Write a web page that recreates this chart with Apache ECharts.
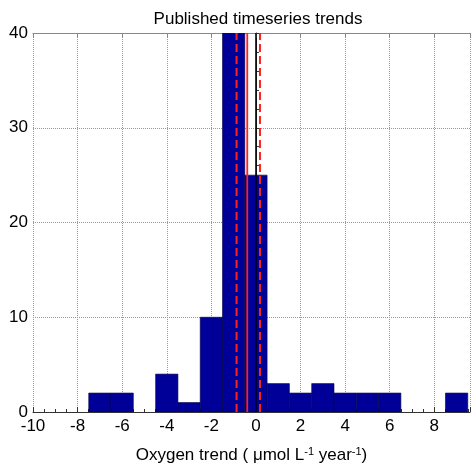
<!DOCTYPE html><html><head><meta charset="utf-8"><script src="https://cdn.jsdelivr.net/npm/echarts@6/dist/echarts.min.js"></script><style>body{margin:0}#c{width:474px;height:474px}</style></head><body><div id="c"></div><script>
var binCenters=[-7,-6,-4,-3,-2,-1,0,1,2,3,4,5,6,9];
var counts=[2,2,4,1,10,42,25,3,2,3,2,2,2,2];
var redDashed=[-0.87,0.18];
var redSolid=[-0.39];
var blackSolid=[0];
var ch=echarts.init(document.getElementById('c'));
function vline(x,color,type,w,z){return {type:'line',data:[[x,0],[x,40]],symbol:'none',silent:true,lineStyle:{color:color,type:type,width:w},z:z};}
var series=[{type:'custom',clip:true,data:binCenters.map(function(c,i){return [c,counts[i]];}),
renderItem:function(p,api){var c=api.value(0),v=api.value(1);var a=api.coord([c-0.5,v]),b=api.coord([c+0.5,0]);
return {type:'rect',shape:{x:a[0],y:a[1],width:b[0]-a[0],height:b[1]-a[1]},style:{fill:'#000099',stroke:'#000044',lineWidth:0.6}};}}];
blackSolid.forEach(function(x){series.push(vline(x,'#000','solid',1.5,5));});
redSolid.forEach(function(x){series.push(vline(x,'#ff2020','solid',1.8,6));});
redDashed.forEach(function(x){series.push(vline(x,'#ff2020','dashed',2,7));});
ch.setOption({animation:false,
title:{text:'Published timeseries trends',left:253,textAlign:'center',top:6,textStyle:{fontFamily:'Liberation Sans',fontSize:17,fontWeight:'normal',color:'#000'}},
grid:{left:33,right:4,top:33,bottom:62},
xAxis:[{type:'value',min:-10,max:9.6,interval:2,minorTick:{show:true,splitNumber:4,length:3},axisTick:{inside:true,length:5,lineStyle:{color:'#333'}},axisLine:{lineStyle:{color:'#333'}},
axisLabel:{fontFamily:'Liberation Sans',fontSize:17,color:'#000',margin:6,showMaxLabel:false},
splitLine:{show:true,lineStyle:{type:'dotted',color:'#999'}},
name:'{a|Oxygen trend ( μmol L}{s|-1}{a| year}{s|-1}{a|)}',nameLocation:'middle',nameGap:34,
nameTextStyle:{rich:{a:{fontFamily:'Liberation Sans',fontSize:17,color:'#000'},s:{fontFamily:'Liberation Sans',fontSize:11,color:'#000',verticalAlign:'top',padding:[0,0,8,0]}}}},
{type:'value',position:'top',min:-10,max:9.6,interval:2,axisLabel:{show:false},axisTick:{inside:true,length:5},axisLine:{lineStyle:{color:'#888'}},splitLine:{show:false}}],
yAxis:{type:'value',min:0,max:40,interval:10,minorTick:{show:true,splitNumber:5,length:3},axisTick:{inside:true,length:5},axisLine:{show:true,lineStyle:{color:'#333'}},
axisLabel:{fontFamily:'Liberation Sans',fontSize:17,color:'#000',margin:5},splitLine:{show:true,lineStyle:{type:'dotted',color:'#999'}}},
series:series});
</script></body></html>
